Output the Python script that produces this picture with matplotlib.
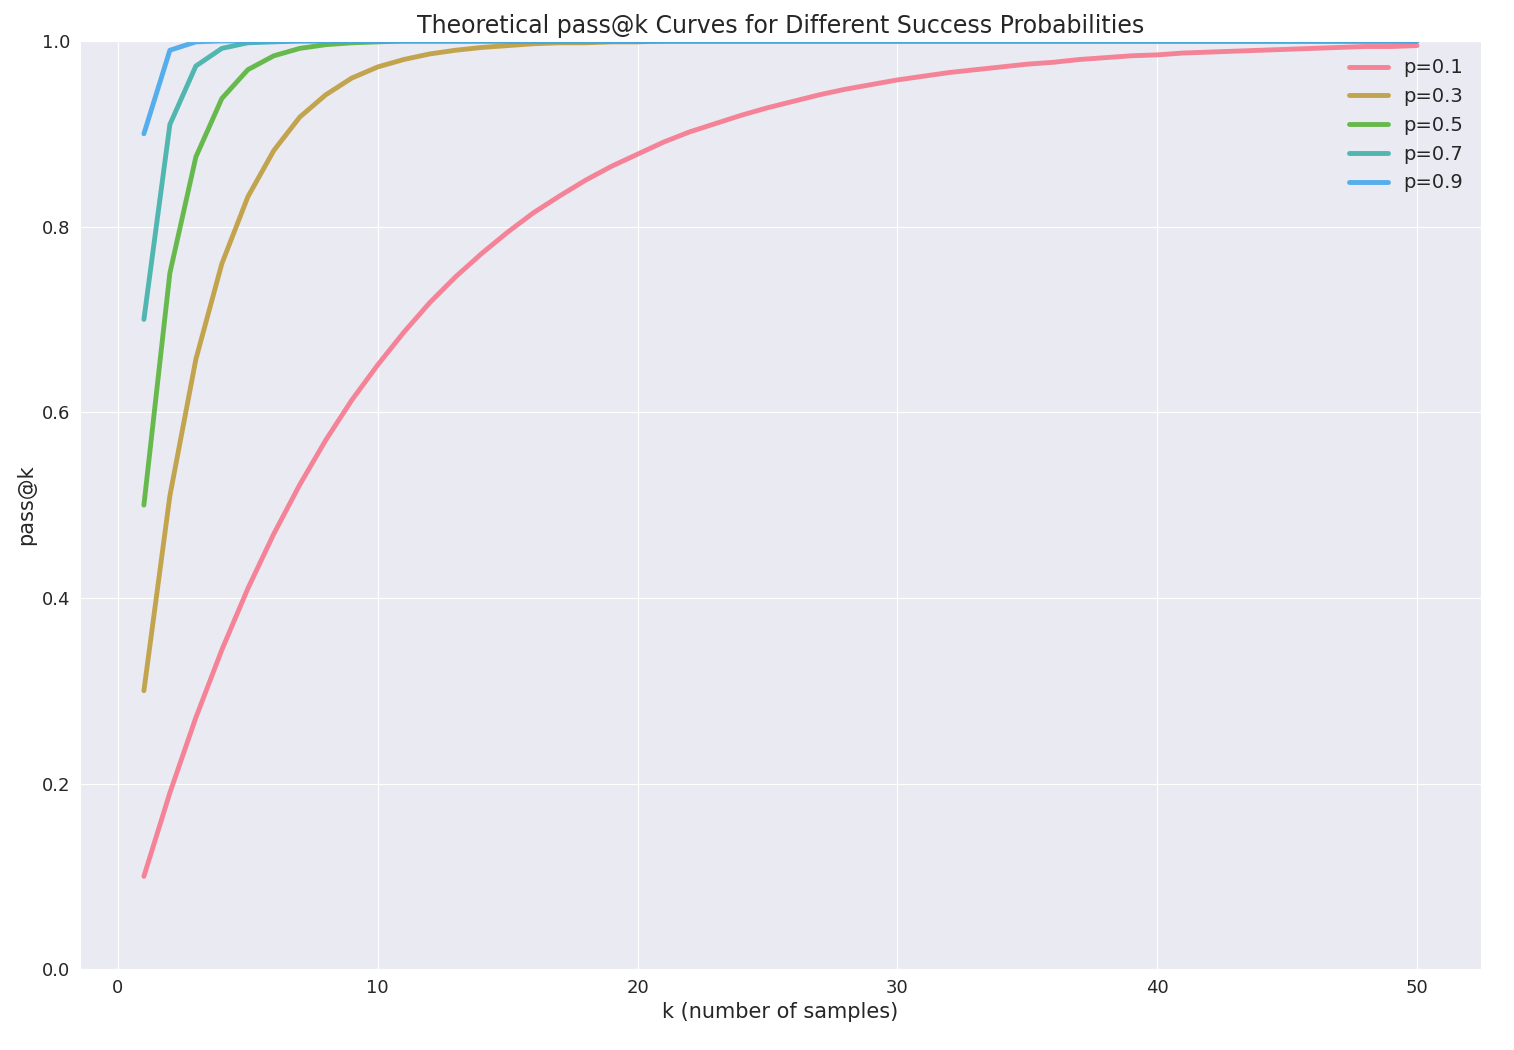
import matplotlib
matplotlib.use("Agg")
import matplotlib.pyplot as plt
import seaborn as sns

sns.set_style("darkgrid")

k = list(range(1, 51))
probs = [0.1, 0.3, 0.5, 0.7, 0.9]

pass_p01 = [0.1, 0.19, 0.271, 0.344, 0.41, 0.469, 0.522, 0.57, 0.613, 0.651,
            0.686, 0.718, 0.746, 0.771, 0.794, 0.815, 0.833, 0.85, 0.865, 0.878,
            0.891, 0.902, 0.911, 0.92, 0.928, 0.935, 0.942, 0.948, 0.953, 0.958,
            0.962, 0.966, 0.969, 0.972, 0.975, 0.977, 0.98, 0.982, 0.984, 0.985,
            0.987, 0.988, 0.989, 0.99, 0.991, 0.992, 0.993, 0.994, 0.994, 0.995]
pass_p03 = [0.3, 0.51, 0.657, 0.76, 0.832, 0.882, 0.918, 0.942, 0.96, 0.972,
            0.98, 0.986, 0.99, 0.993, 0.995, 0.997, 0.998, 0.998, 0.999, 0.999] + [1.0] * 30
pass_p05 = [0.5, 0.75, 0.875, 0.938, 0.969, 0.984, 0.992, 0.996, 0.998, 0.999] + [1.0] * 40
pass_p07 = [0.7, 0.91, 0.973, 0.992, 0.998, 0.999] + [1.0] * 44
pass_p09 = [0.9, 0.99, 0.999] + [1.0] * 47
series = [pass_p01, pass_p03, pass_p05, pass_p07, pass_p09]

colors = sns.color_palette("husl", 6)

fig, ax = plt.subplots(figsize=(15.14, 10.5), dpi=100)
for p, vals, c in zip(probs, series, colors):
    ax.plot(k, vals, color=c, linewidth=3.5, alpha=0.85, label=f"p={p}")

ax.set_ylim(0, 1.0)
ax.set_xlabel("k (number of samples)", fontsize=15)
ax.set_ylabel("pass@k", fontsize=15)
ax.set_title("Theoretical pass@k Curves for Different Success Probabilities", fontsize=17)
ax.tick_params(labelsize=13)
ax.legend(fontsize=14, frameon=False, loc="upper right")
fig.subplots_adjust(left=0.053, right=0.978, top=0.961, bottom=0.077)
fig.savefig("out.png")
